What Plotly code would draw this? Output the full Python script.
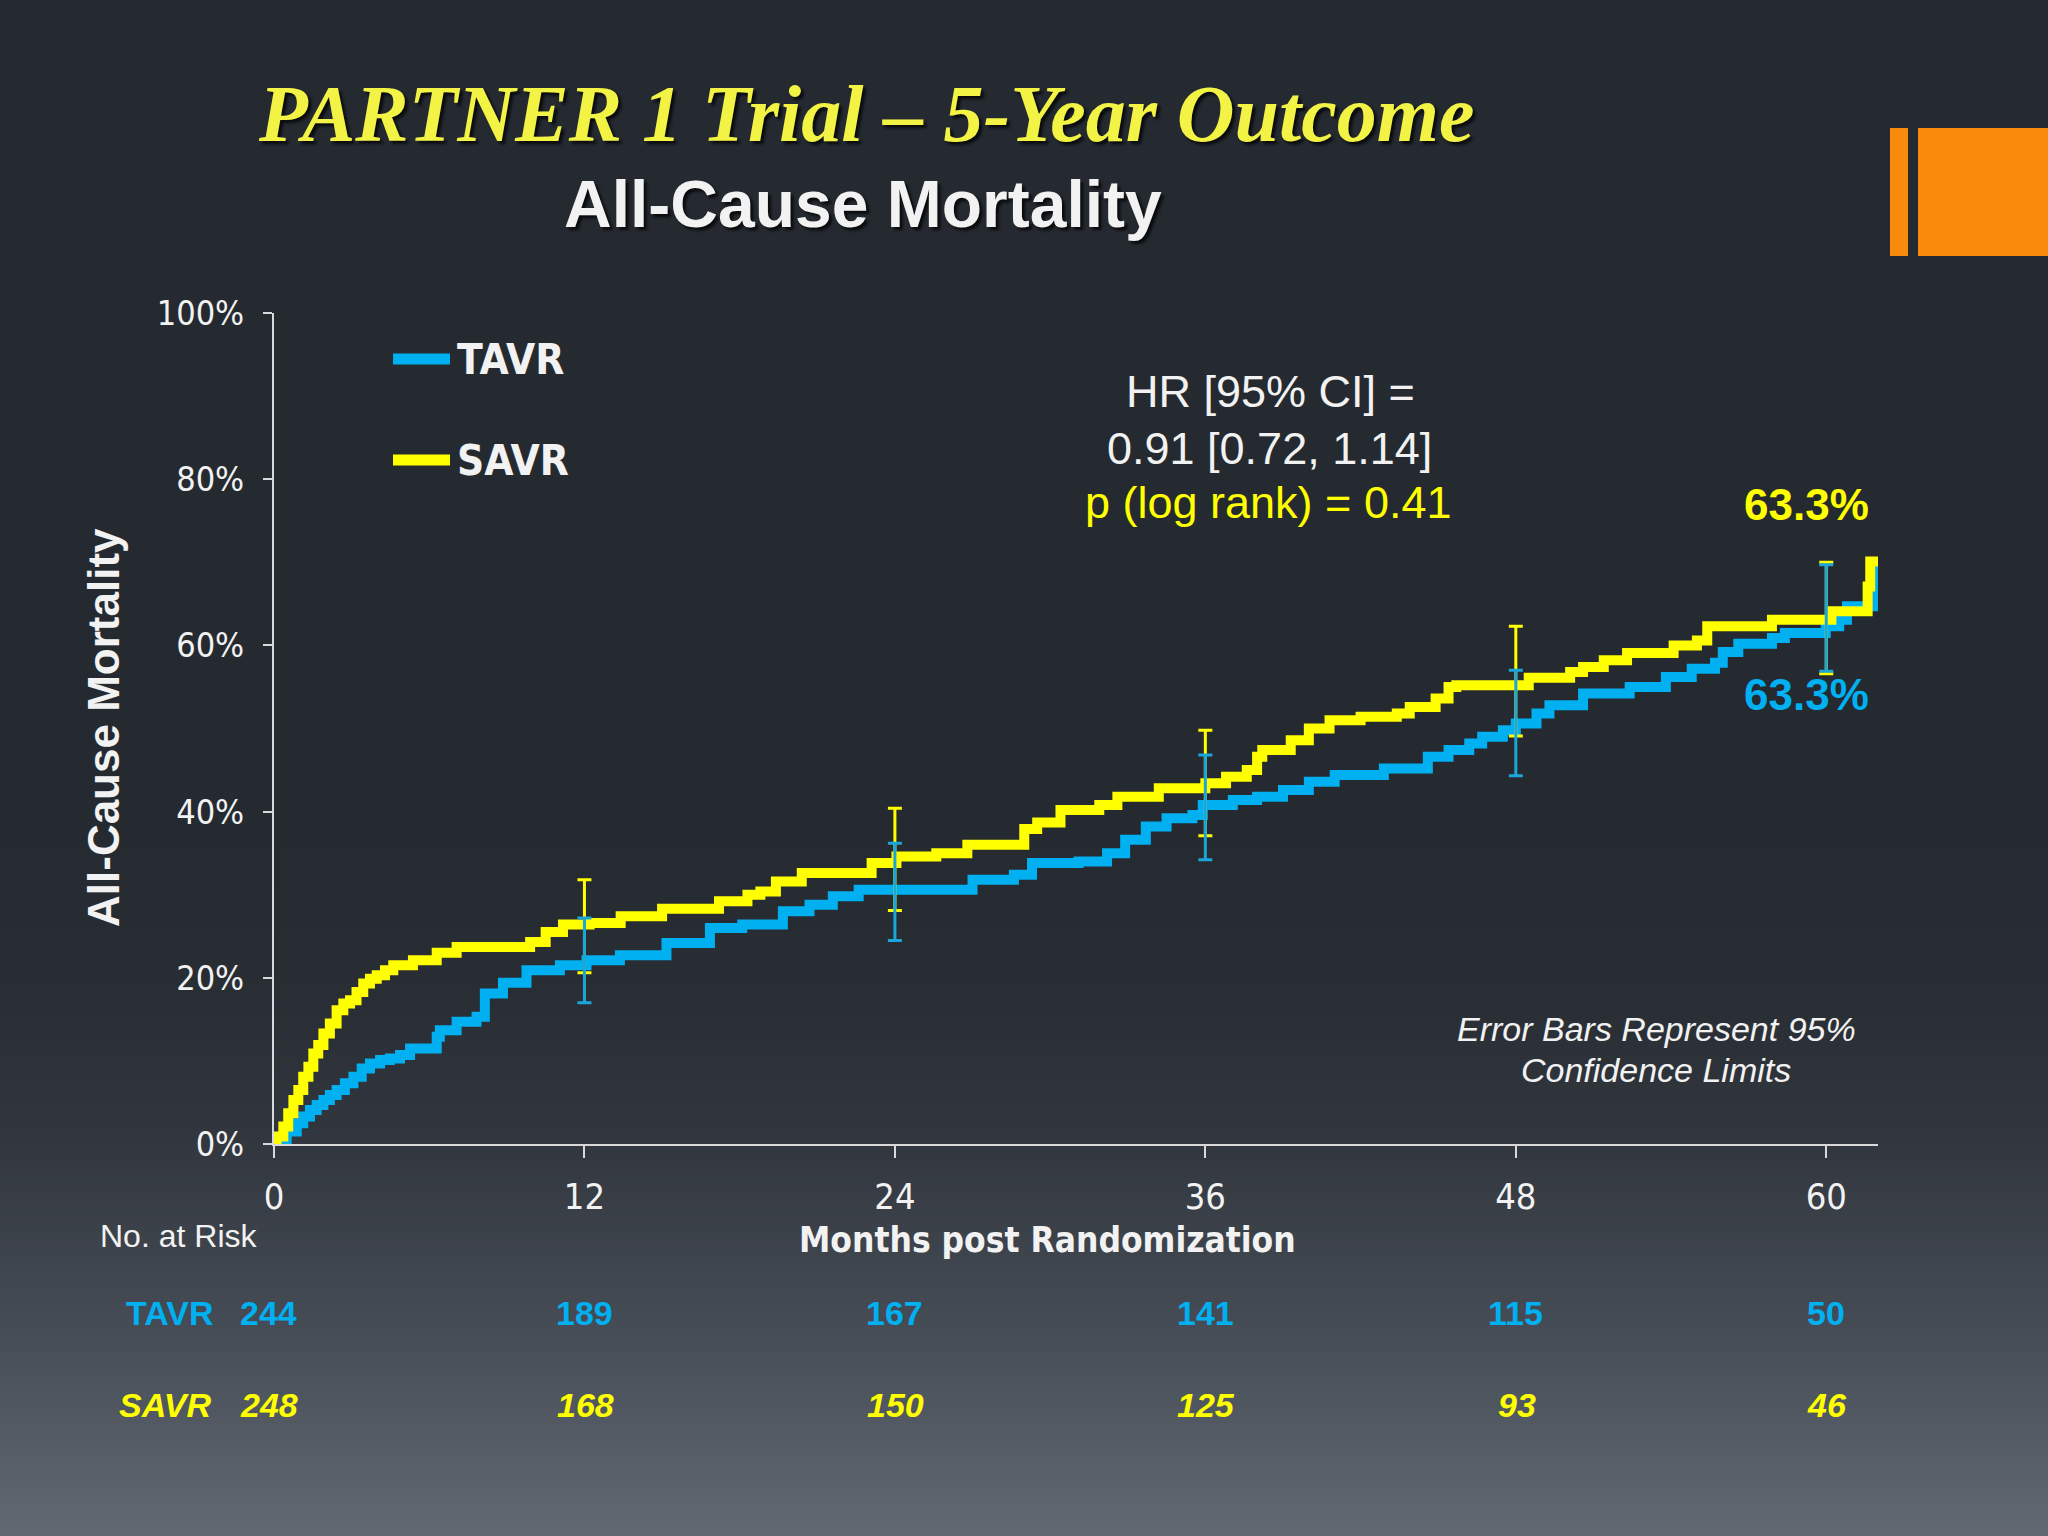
import plotly.graph_objects as go

W, H = 2048, 1536

# ---------------- data ----------------
tavr_months = [0, 0.23, 0.49, 0.88, 1.13, 1.39, 1.65, 1.91, 2.16, 2.42, 2.74, 3.07, 3.39, 3.71,
               4.1, 4.48, 4.87, 5.26, 6.29, 6.41, 7.06, 7.83, 8.15,
               8.85, 9.76, 11.05, 12.08, 13.37, 15.17, 16.85, 18.1, 19.67, 20.7, 21.6, 22.6,
               27.0, 28.6, 29.3, 31.1, 32.2, 32.9, 33.7, 34.5, 35.5, 35.9, 37.06, 38.0, 39.0,
               40.0, 41.0, 42.9, 44.6, 45.4, 46.2, 46.7, 47.5, 48.0, 48.8, 49.3, 50.6, 52.4,
               53.8, 54.8, 55.7, 56.0, 56.6, 57.9, 58.4, 59.98, 60.5, 60.8, 61.9, 62.0]
tavr_pct = [0, 0.5, 1.5, 2.5, 3.3, 4.1, 4.7, 5.3, 5.9, 6.5, 7.3, 8.1, 9.1, 9.7,
            10.1, 10.3, 10.7, 11.5, 12.9, 13.7, 14.7, 15.3, 18.1,
            19.4, 20.9, 21.5, 22.1, 22.7, 24.2, 26.0, 26.4, 28.0, 28.8, 29.8, 30.6,
            31.8, 32.4, 33.8, 34.0, 35.0, 36.6, 38.2, 39.2, 39.6, 40.8, 41.4, 41.8, 42.6,
            43.6, 44.4, 45.2, 46.6, 47.4, 48.2, 49.0, 49.8, 50.6, 51.8, 52.8, 54.2, 55.0,
            56.2, 57.2, 57.9, 59.2, 60.2, 60.9, 61.5, 62.3, 63.1, 64.7, 69.5, 69.5]

savr_months = [0, 0.1, 0.36, 0.55, 0.75, 0.94, 1.13, 1.33, 1.52, 1.71, 1.91, 2.16, 2.42, 2.68,
               2.94, 3.19, 3.45, 3.71, 3.97, 4.29, 4.61, 5.37, 6.29,
               7.06, 9.9, 10.5, 11.17, 12.2, 13.4, 15.0, 17.2, 18.3, 18.8, 19.4, 20.4, 23.1,
               24.06, 25.6, 26.8, 29.0, 29.5, 30.4, 31.9, 32.6, 34.2, 36.0, 36.8, 37.6, 38.0,
               38.2, 39.3, 40.0, 40.8, 42.0, 43.4, 43.9, 44.9, 45.4, 45.7, 48.5, 50.1, 50.6,
               51.4, 52.3, 54.1, 55.0, 55.4, 57.9, 60.2, 61.6, 61.7, 62.0]
savr_pct = [0, 0.9, 2.1, 3.7, 5.3, 6.5, 8.1, 9.3, 10.9, 11.9, 13.3, 14.5, 16.1, 16.9,
            17.3, 18.3, 19.3, 19.9, 20.3, 20.9, 21.5, 22.1, 23.0,
            23.7, 24.3, 25.5, 26.4, 26.6, 27.4, 28.3, 29.2, 30.0, 30.4, 31.6, 32.6, 33.8,
            34.6, 35.0, 36.0, 37.9, 38.7, 40.2, 40.8, 41.8, 42.8, 43.4, 44.2, 45.0, 46.6,
            47.4, 48.6, 50.0, 51.0, 51.4, 51.8, 52.6, 53.6, 55.0, 55.2, 56.1, 56.8, 57.4,
            58.2, 59.1, 60.0, 60.6, 62.3, 63.1, 64.1, 67.1, 70.1, 70.1]

ci_months = [12, 24, 36, 48, 60]
savr_ci_low = [20.6, 28.1, 37.1, 49.1, 56.6]
savr_ci_high = [31.8, 40.4, 49.8, 62.3, 70.0]
tavr_ci_low = [17.0, 24.5, 34.2, 44.3, 56.9]
tavr_ci_high = [27.2, 36.2, 46.8, 57.0, 69.7]

risk_months = [0, 12, 24, 36, 48, 60]
tavr_risk = [244, 189, 167, 141, 115, 50]
savr_risk = [248, 168, 150, 125, 93, 46]

x_ticks = [0, 12, 24, 36, 48, 60]
y_ticks = [0, 20, 40, 60, 80, 100]
y_tick_text = ["0%", "20%", "40%", "60%", "80%", "100%"]

final_savr_label = "63.3%"
final_tavr_label = "63.3%"

# ---------------- styling ----------------
BLUE = "#00b0f0"
BLUE_ERR = "#1aa6d8"
YELLOW = "#ffff00"
TITLE_YELLOW = "#f3f345"
WHITE = "#f2f2f2"
AXIS = "#d9d9d9"
ORANGE = "#f98a0c"
NARROW = "DejaVu Sans Condensed, Liberation Sans Narrow, Arial Narrow, sans-serif"
SANS = "Liberation Sans, Arial, sans-serif"
SERIF = "Liberation Serif, Times New Roman, serif"


def px(x):
    return x / W


def py(y):
    return 1 - y / H


fig = go.Figure()

fig.add_trace(go.Scatter(x=tavr_months, y=tavr_pct, mode="lines", name="TAVR",
                         line=dict(color=BLUE, width=10, shape="hv")))
fig.add_trace(go.Scatter(x=savr_months, y=savr_pct, mode="lines", name="SAVR",
                         line=dict(color=YELLOW, width=10, shape="hv")))

for lo, hi, col in [(savr_ci_low, savr_ci_high, YELLOW), (tavr_ci_low, tavr_ci_high, BLUE_ERR)]:
    mid = [(a + b) / 2 for a, b in zip(lo, hi)]
    half = [(b - a) / 2 for a, b in zip(lo, hi)]
    fig.add_trace(go.Scatter(x=ci_months, y=mid, mode="markers",
                             marker=dict(size=2, color="rgba(0,0,0,0)"),
                             error_y=dict(type="data", symmetric=True, array=half,
                                          color=col, thickness=3, width=7),
                             showlegend=False, hoverinfo="skip"))

# ---------------- background gradient ----------------
stops = [(0, (37, 42, 49)), (820, (37, 42, 49)), (1000, (41, 46, 53)), (1150, (51, 56, 64)),
         (1350, (72, 79, 88)), (1536, (97, 105, 115))]


def col_at(y):
    for (y0, c0), (y1, c1) in zip(stops[:-1], stops[1:]):
        if y0 <= y <= y1:
            t = (y - y0) / (y1 - y0) if y1 > y0 else 0
            return "rgb(%d,%d,%d)" % tuple(round(a + (b - a) * t) for a, b in zip(c0, c1))
    return "rgb(%d,%d,%d)" % stops[-1][1]


shapes = []
band = 6
y = 800
while y < H:
    shapes.append(dict(type="rect", xref="paper", yref="paper", x0=0, x1=1,
                       y0=py(min(y + band + 1, H)), y1=py(y), fillcolor=col_at(y + band / 2),
                       line=dict(width=0), layer="below"))
    y += band

# orange decoration
shapes.append(dict(type="rect", xref="paper", yref="paper", x0=px(1890), x1=px(1908),
                   y0=py(256), y1=py(128), fillcolor=ORANGE, line=dict(width=0)))
shapes.append(dict(type="rect", xref="paper", yref="paper", x0=px(1918), x1=1.0,
                   y0=py(256), y1=py(128), fillcolor=ORANGE, line=dict(width=0)))

# legend samples
for yy, col in [(359, BLUE), (460, YELLOW)]:
    shapes.append(dict(type="line", xref="paper", yref="paper", x0=px(393), x1=px(450),
                       y0=py(yy), y1=py(yy), line=dict(color=col, width=11)))

ann = []


def text(x, y, s, size, color=WHITE, family=SANS, weight="normal", style="normal",
         xanchor="center", xref="paper", shadow=None, angle=0, xshift=0):
    f = dict(family=family, size=size, color=color, weight=weight, style=style)
    if shadow:
        f["shadow"] = shadow
    ann.append(dict(x=x, y=y, xref=xref, yref="paper", text=s, showarrow=False,
                    font=f, xanchor=xanchor, yanchor="middle", textangle=angle, xshift=xshift))


SH = "3px 3px 3px rgba(0,0,0,0.75)"
text(px(866), py(114), "PARTNER 1 Trial – 5-Year Outcome", 80, TITLE_YELLOW, SERIF,
     "bold", "italic", shadow=SH)
text(px(863), py(204), "All-Cause Mortality", 66, WHITE, SANS, "bold", shadow=SH)

text(px(455), py(359), "TAVR", 42, WHITE, NARROW, "bold", xanchor="left")
text(px(455), py(460), "SAVR", 42, WHITE, NARROW, "bold", xanchor="left")

text(px(1270), py(392), "HR [95% CI] =", 45, WHITE)
text(px(1269), py(448), "0.91 [0.72, 1.14]", 45, WHITE)
text(px(1268), py(503), "p (log rank) = 0.41", 45, YELLOW)

text(px(1806), py(504), final_savr_label, 44, YELLOW, SANS, "bold")
text(px(1806), py(694), final_tavr_label, 44, BLUE, SANS, "bold")

text(px(1656), py(1029), "Error Bars Represent 95%", 34, WHITE, SANS, style="italic")
text(px(1656), py(1070), "Confidence Limits", 34, WHITE, SANS, style="italic")

text(px(104), py(728), "All-Cause Mortality", 44, WHITE, SANS, "bold", angle=-90)
text(px(1047), py(1240), "Months post Randomization", 35, WHITE, NARROW, "bold")
text(px(98), py(1236), "No. at Risk", 32, WHITE, SANS, xanchor="left")

text(px(216), py(1313), "TAVR", 34, BLUE, SANS, "bold", xanchor="right")
text(px(213), py(1405), "SAVR", 34, YELLOW, SANS, "bold", "italic", xanchor="right")
for i, (m, a, b) in enumerate(zip(risk_months, tavr_risk, savr_risk)):
    sh = -6 if i == 0 else 0
    text(m, py(1313), str(a), 34, BLUE, SANS, "bold", xref="x", xshift=sh)
    text(m, py(1405), str(b), 34, YELLOW, SANS, "bold", "italic", xref="x", xshift=sh + 1)

fig.update_layout(
    template="none",
    width=W, height=H, margin=dict(l=0, r=0, t=0, b=0, pad=0, autoexpand=False),
    paper_bgcolor="#252a31", plot_bgcolor="rgba(0,0,0,0)",
    showlegend=False, shapes=shapes, annotations=ann,
    xaxis=dict(domain=[px(274), px(1878)], range=[0, 62], tickmode="array", tickvals=x_ticks,
               ticks="outside", ticklen=12, tickwidth=2, tickcolor=AXIS, automargin=False,
               showline=True, linecolor=AXIS, linewidth=2, showgrid=False, zeroline=False,
               tickfont=dict(family=NARROW, size=36, color=WHITE), ticklabelstandoff=8),
    yaxis=dict(domain=[py(1144), py(313)], range=[0, 100], tickmode="array", tickvals=y_ticks,
               ticktext=y_tick_text, automargin=False,
               ticks="outside", ticklen=9, tickwidth=2, tickcolor=AXIS,
               showline=True, linecolor=AXIS, linewidth=2, showgrid=False, zeroline=False,
               tickfont=dict(family=NARROW, size=34, color=WHITE), ticklabelstandoff=12),
)

fig.write_html("out.html")
